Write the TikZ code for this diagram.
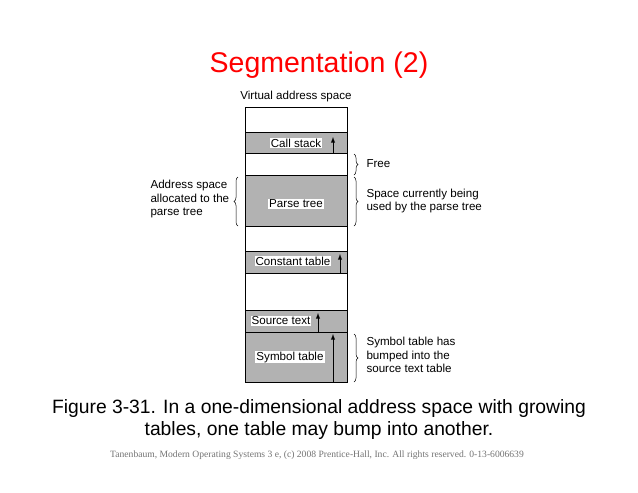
\documentclass[tikz,border=0pt]{standalone}
\usepackage{fontspec}
\setmainfont{Liberation Sans}
\newfontfamily\footfont{Liberation Serif}
\usetikzlibrary{decorations.pathreplacing}
\begin{document}
\begin{tikzpicture}[x=1pt,y=-1pt,
  seg/.style={fill=black!30,draw=black,line width=0.8pt},
  lbl/.style={fill=white,inner sep=1pt,font=\fontsize{11.6}{13}\selectfont},
  txt/.style={align=left,anchor=west,font=\fontsize{11.6}{13.5}\selectfont},
  growarrow/.style={-latex,line width=0.9pt},
  br/.style={decorate,decoration={brace,amplitude=4pt},line width=0.5pt}]
\useasboundingbox (0,0) rectangle (638,493);
\node[text=red,font=\fontsize{28.5}{32}\selectfont] (title) at (319,65) {Segmentation (2)};
\node[font=\fontsize{11.6}{13}\selectfont] (vas) at (296,96) {Virtual address space};
% segments
\draw[seg] (245,132) rectangle (347,153);
\draw[seg] (245,175) rectangle (347,226);
\draw[seg] (245,251) rectangle (347,273);
\draw[seg] (245,310) rectangle (347,332);
\draw[seg] (245,332) rectangle (347,382);
\draw[line width=0.8pt] (245,107) rectangle (347,382);
\node[lbl] (cs) at (296,143) {Call stack};
\node[lbl] (pt) at (296,204) {Parse tree};
\node[lbl] (ct) at (293,261) {Constant table};
\node[lbl] (st) at (281,321) {Source text};
\node[lbl] (sy) at (290,357) {Symbol table};
\coordinate (a1) at (333,153); \coordinate (a1e) at (333,137);
\coordinate (a2) at (340,273); \coordinate (a2e) at (340,254);
\coordinate (a3) at (318,332); \coordinate (a3e) at (318,313);
\coordinate (a4) at (333,382); \coordinate (a4e) at (333,334);
\draw[growarrow] (a1) -- (a1e);
\draw[growarrow] (a2) -- (a2e);
\draw[growarrow] (a3) -- (a3e);
\draw[growarrow] (a4) -- (a4e);
% braces
\draw[br] (354,154) -- (354,175);
\draw[br] (354,177) -- (354,226);
\draw[br] (354,334) -- (354,382);
\draw[br] (238,226) -- (238,177);
\node[txt] (free) at (363,164) {Free};
\node[txt] (sp) at (363,201) {Space currently being\\used by the parse tree};
\node[txt] (sb) at (363,355) {Symbol table has\\bumped into the\\source text table};
\node[txt] (as) at (147,199) {Address space\\allocated to the\\parse tree};
\node[font=\fontsize{19.3}{22}\selectfont,align=center] (cap) at (319,420) {Figure 3-31. In a one-dimensional address space with growing\\tables, one table may bump into another.};
\node[font=\fontsize{9.6}{11}\selectfont\footfont,text=black!55] (foot) at (317,455) {Tanenbaum, Modern Operating Systems 3 e, (c) 2008 Prentice-Hall, Inc. All rights reserved. 0-13-6006639};
\end{tikzpicture}
\end{document}
